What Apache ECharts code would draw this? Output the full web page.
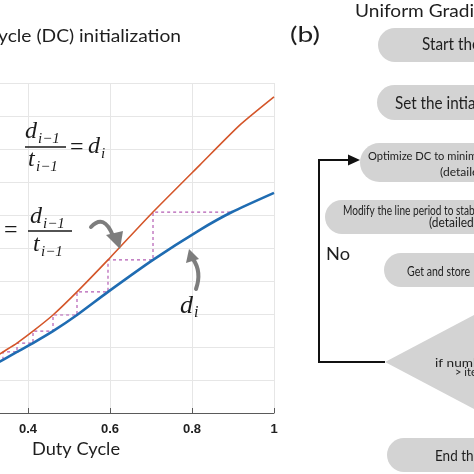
<!DOCTYPE html>
<html><head><meta charset="utf-8">
<script src="https://cdn.jsdelivr.net/npm/echarts@6/dist/echarts.min.js"></script>
<style>html,body{margin:0;padding:0;background:#fff;overflow:hidden;width:474px;height:474px;position:relative}
#c{position:absolute;left:-54px;top:0;width:528px;height:474px}</style>
</head><body><div id="c"></div>
<script>
// ---- data ----
const tickLabels = ['0.2', '0.4', '0.6', '0.8', '1'];
const orangeDuty = [0.32, 0.339, 0.3732, 0.4122, 0.4610, 0.5195, 0.5951, 0.7049, 0.8195, 0.9171, 1.0];
const orangeVals = [0.170, 0.185, 0.212, 0.248, 0.297, 0.367, 0.464, 0.609, 0.752, 0.873, 0.958];
const blueDuty = [0.32, 0.339, 0.3732, 0.4122, 0.4610, 0.5195, 0.5951, 0.7049, 0.8195, 0.8976, 1.0];
const blueVals = [0.148, 0.161, 0.185, 0.212, 0.248, 0.297, 0.367, 0.464, 0.555, 0.609, 0.667];
const stepDuty = [0.339, 0.3732, 0.4122, 0.4610, 0.5195, 0.5951, 0.7049, 0.8976];
const stepLevel = [0.161, 0.185, 0.212, 0.248, 0.297, 0.367, 0.464, 0.609];
const titleText = 'Duty cycle (DC) initialization';
const xName = 'Duty Cycle';

const zip = (a, b) => a.map((v, i) => [v, b[i]]);
const stairs = [];
for (let i = 0; i < stepDuty.length - 1; i++) {
  stairs.push([stepDuty[i], stepLevel[i]]);
  stairs.push([stepDuty[i], stepLevel[i + 1]]);
}
stairs.push([stepDuty[stepDuty.length - 1], stepLevel[stepLevel.length - 1]]);

const chart = echarts.init(document.getElementById('c'), null, {renderer: 'canvas'});

const MF = '"Liberation Serif", serif';
const SF = 'Lato, "Open Sans", sans-serif';
const mctx = document.createElement('canvas').getContext('2d');
function measure(sample, size) {
  mctx.font = size + 'px ' + SF;
  return mctx.measureText(sample).width;
}
function mt(x, y, text, size, italic) {
  return {type: 'text', x: x, y: y, z: 10, style: {text: text, fontFamily: MF, fontSize: size,
    fontStyle: italic === false ? 'normal' : 'italic', fill: '#1a1a1a', align: 'left', verticalAlign: 'middle'}};
}
function bar(x1, x2, y) {
  return {type: 'line', z: 10, shape: {x1: x1, y1: y, x2: x2, y2: y}, style: {stroke: '#1a1a1a', lineWidth: 1.3}};
}
// text of given size, horizontally scaled so that the visible sample spans the given width
function st(x, y, text, size, sample, width, align) {
  const sx = sample ? width / measure(sample, size) : 1;
  return {type: 'text', x: x, y: y, z: 10, scaleX: sx, style: {text: text, fontFamily: SF, fontSize: size,
    fill: '#1e1e1e', align: align || 'left', verticalAlign: 'middle'}};
}
function pill(x, y, w, h) {
  return {type: 'rect', z: 5, shape: {x: x, y: y, width: w, height: h, r: h / 2}, style: {fill: '#d3d3d3'}};
}
const gray = '#7d7d7d';

const graphics = [
  // title & labels
  st(181, 36, titleText, 18, 'ycle (DC) initialization', 183, 'right'),
  st(76, 449, xName, 18, xName, 88, 'center'),
  // label 1: d_{i-1}/t_{i-1} = d_i
  mt(25, 132, 'd', 24), mt(38, 139, 'i−1', 15),
  bar(25, 66, 147),
  mt(28, 160, 't', 24), mt(36, 167, 'i−1', 15),
  mt(70, 148, '=', 24, false),
  mt(88, 147, 'd', 24), mt(101, 154, 'i', 15),
  // label 2: = d_{i-1}/t_{i-1}
  mt(4, 231, '=', 24, false),
  mt(30, 217, 'd', 24), mt(43, 224, 'i−1', 15),
  bar(28, 72, 231),
  mt(33, 245, 't', 24), mt(41, 252, 'i−1', 15),
  // label 3: d_i
  mt(180, 306, 'd', 26), mt(194, 313, 'i', 16),
  // gray arrows
  {type: 'bezierCurve', z: 9, shape: {x1: 91, y1: 227, cpx1: 104, cpy1: 213, x2: 113, y2: 236},
    style: {stroke: gray, lineWidth: 4, fill: null, lineCap: 'round'}},
  {type: 'polygon', z: 9, shape: {points: [[106, 235], [123, 231], [120, 249]]}, style: {fill: gray}},
  {type: 'bezierCurve', z: 9, shape: {x1: 193, y1: 259, cpx1: 202, cpy1: 272, x2: 196, y2: 289},
    style: {stroke: gray, lineWidth: 4, fill: null, lineCap: 'round'}},
  {type: 'polygon', z: 9, shape: {points: [[189, 249], [186, 263], [199, 259]]}, style: {fill: gray}},
  // flowchart (b)
  st(290, 35, '(b)', 22, '(b)', 30),
  st(355, 12, 'Uniform Gradient Descent', 17, 'Uniform Gradi', 119),
  pill(378, 28, 200, 34), st(422, 45, 'Start the process', 17, 'Start th', 50),
  pill(377, 85, 200, 35), st(395, 103, 'Set the intial values', 18, 'Set the inti', 73),
  pill(360, 143, 220, 39), st(368, 156, 'Optimize DC to minimize error', 12, 'Optimize DC to mini', 100),
  st(440, 172, '(detailed)', 12, '(detail', 32),
  pill(325, 200, 250, 34), st(343, 211, 'Modify the line period to stabilize', 12.5, 'Modify the line period to sta', 126),
  st(429, 223, '(detailed)', 12.5, '(detaile', 38),
  pill(384, 253, 200, 34), st(407, 271, 'Get and store', 14, 'Get and store', 63),
  {type: 'polygon', z: 5, shape: {points: [[385, 362], [565, 267], [745, 362], [565, 457]]}, style: {fill: '#d3d3d3'}},
  st(435, 363, 'if number of iterations', 12, 'if num', 38), st(455, 372, '> iteration limit', 12, '> it', 16),
  pill(387, 438, 200, 34), st(435, 456, 'End the process', 15, 'End t', 31),
  {type: 'polyline', z: 6, shape: {points: [[385, 362], [319, 362], [319, 160], [350, 160]]},
    style: {stroke: '#111', lineWidth: 2, fill: null}},
  {type: 'polygon', z: 6, shape: {points: [[348, 154.5], [360, 160], [348, 165.5]]}, style: {fill: '#111'}},
  st(326, 254, 'No', 18, 'No', 24)
];

chart.setOption({
  animation: false,
  backgroundColor: '#ffffff',
  grid: {left: 0, right: 200, top: 83, bottom: 61, containLabel: false, outerBoundsMode: 'none'},
  xAxis: {
    type: 'value', min: 0.2, max: 1.0, interval: 0.2,
    axisLine: {show: true, lineStyle: {color: '#5a5a5a', width: 1}},
    axisTick: {show: true, inside: true, length: 5, lineStyle: {color: '#5a5a5a'}},
    axisLabel: {formatter: (v, i) => tickLabels[i], fontFamily: 'Liberation Sans, Arial, sans-serif',
      fontWeight: 'bold', fontSize: 13, color: '#222', margin: 10},
    splitLine: {show: true, lineStyle: {color: '#e6e6e6', width: 1}}
  },
  yAxis: {
    type: 'value', min: 0, max: 1, interval: 0.1,
    axisLine: {show: false}, axisTick: {show: false}, axisLabel: {show: false},
    splitLine: {show: true, lineStyle: {color: '#e6e6e6', width: 1}}
  },
  series: [
    {type: 'line', data: stairs, showSymbol: false, z: 2,
      lineStyle: {color: '#b35cb3', width: 1.2, type: [3, 3]}},
    {type: 'line', data: zip(orangeDuty, orangeVals), showSymbol: false, smooth: 0.2, z: 3,
      lineStyle: {color: '#d4562a', width: 1.6}},
    {type: 'line', data: zip(blueDuty, blueVals), showSymbol: false, smooth: 0.2, z: 4,
      lineStyle: {color: '#1f6cb2', width: 2.6}}
  ],
  graphic: [{type: 'group', x: 54, y: 0, children: graphics}]
});
</script></body></html>
